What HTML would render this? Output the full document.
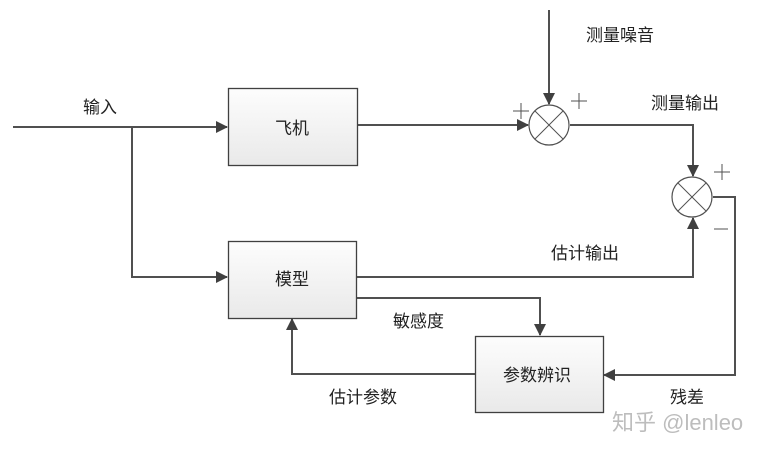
<!DOCTYPE html>
<html><head><meta charset="utf-8"><style>
html,body{margin:0;padding:0;background:#fff;width:769px;height:452px;overflow:hidden}
text{font-family:"Liberation Sans","Noto Sans CJK SC",sans-serif;font-size:17px;fill:#222}
</style></head><body>
<svg width="769" height="452" xmlns="http://www.w3.org/2000/svg">
<defs>
<linearGradient id="g" x1="0" y1="0" x2="0" y2="1"><stop offset="0" stop-color="#fdfdfd"/><stop offset="1" stop-color="#e9e9e9"/></linearGradient>
<marker id="a" markerWidth="12" markerHeight="12" refX="11" refY="6" orient="auto" markerUnits="userSpaceOnUse"><path d="M0,0 L12,6 L0,12 Z" fill="#404040"/></marker>
</defs>
<g stroke="#505050" stroke-width="2" fill="none">
<line x1="13" y1="127" x2="227" y2="127" marker-end="url(#a)"/>
<polyline points="132,127 132,277 227,277" marker-end="url(#a)"/>
<line x1="357" y1="125" x2="528" y2="125" marker-end="url(#a)"/>
<line x1="549" y1="10" x2="549" y2="104" marker-end="url(#a)"/>
<polyline points="570,125 693,125 693,176" marker-end="url(#a)"/>
<polyline points="356,277 693,277 693,218" marker-end="url(#a)"/>
<polyline points="356,298 540,298 540,335" marker-end="url(#a)"/>
<polyline points="713,197 735,197 735,375 604,375" marker-end="url(#a)"/>
<polyline points="475,374 292,374 292,319" marker-end="url(#a)"/>
</g>
<g stroke="#404040" stroke-width="1.3" fill="url(#g)">
<rect x="228.5" y="88.5" width="129" height="77"/>
<rect x="228.5" y="241.5" width="128" height="77"/>
<rect x="475.5" y="336.5" width="128" height="76"/>
</g>
<g stroke="#505050" stroke-width="1.2" fill="#fff">
<circle cx="549" cy="125" r="20"/>
<circle cx="692" cy="197" r="20"/>
</g>
<g stroke="#505050" stroke-width="1">
<line x1="535" y1="111" x2="563" y2="139"/><line x1="563" y1="111" x2="535" y2="139"/>
<line x1="678" y1="183" x2="706" y2="211"/><line x1="706" y1="183" x2="678" y2="211"/>
<path d="M571,101 h16 M579,93 v16 M513,111 h16 M521,103 v16 M714,172 h16 M722,164 v16 M714,229 h14"/>
</g>
<text x="275" y="134">飞机</text>
<text x="275" y="285">模型</text>
<text x="503" y="381">参数辨识</text>
<text x="83" y="113">输入</text>
<text x="586" y="41">测量噪音</text>
<text x="651" y="109">测量输出</text>
<text x="551" y="259">估计输出</text>
<text x="393" y="327">敏感度</text>
<text x="329" y="403">估计参数</text>
<text x="670" y="403">残差</text>
<text x="612" y="430" style="font-size:22px;fill:#bdbdbd">知乎 @lenleo</text>
</svg>
</body></html>
